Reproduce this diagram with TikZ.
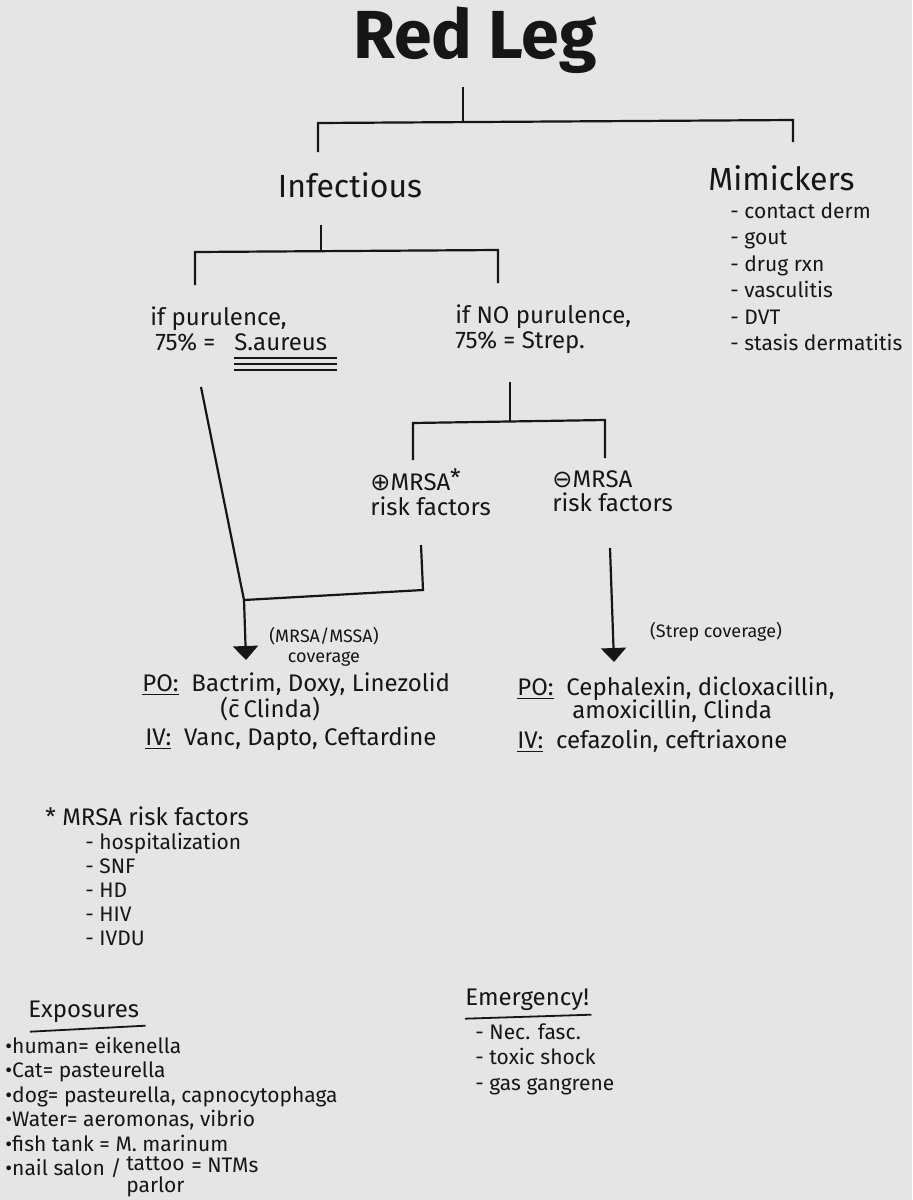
\documentclass[tikz,border=0pt]{standalone}
\usepackage{fontspec}
\setmainfont{Fira Sans}
\newfontfamily\symfont{DejaVu Sans}
\usetikzlibrary{positioning,arrows.meta,calc}
\definecolor{paper}{RGB}{229,229,229}
\definecolor{ink}{RGB}{22,22,22}
\tikzset{
  ttl/.style={font=\fontsize{34}{38}\selectfont\bfseries,text=ink,inner sep=0pt},
  head/.style={font=\fontsize{16}{19}\selectfont,text=ink,inner sep=0pt},
  txt/.style={font=\fontsize{12}{14}\selectfont,text=ink,inner sep=0pt,anchor=west,
    text height=1.5ex,text depth=0.45ex},
  itm/.style={font=\fontsize{10.5}{12.5}\selectfont,text=ink,inner sep=0pt,anchor=west,
    text height=1.5ex,text depth=0.45ex},
  note/.style={font=\fontsize{9}{10}\selectfont,text=ink,inner sep=0pt,align=center},
  lnk/.style={draw=ink,line width=1.1pt},
  arr/.style={lnk,-{Triangle[length=7pt,width=12.5pt]}},
  ul/.style={draw=ink,line width=0.9pt},
}
\begin{document}
\begin{tikzpicture}[x=0.5pt,y=-0.5pt]
  \fill[paper] (0,0) rectangle (912,1200);
  \useasboundingbox (0,0) rectangle (912,1200);

  % title and first split
  \node[ttl] (title) at (475,40) {Red Leg};
  \coordinate (rt) at (463,87);
  \coordinate (rj) at (463,122);
  \coordinate (rl) at (318,123);
  \coordinate (rr) at (793,120);
  \draw[lnk] (rt) -- (rj);
  \draw[lnk] (rl) ++(0,29) -- (rl) -- (rr) -- ++(0,22);

  \node[head] (inf) at (350,185) {Infectious};
  \node[head,anchor=west] (mim) at (708,178) {Mimickers};
  \foreach \t [count=\i] in {contact derm,gout,drug rxn,vasculitis,DVT,stasis dermatitis}
    \node[itm] (mim\i) at (730,186+26.5*\i) {- \t};

  % purulence split
  \coordinate (ij0) at (321,225);
  \coordinate (ij) at (321,251);
  \coordinate (il) at (195,252);
  \coordinate (ir) at (498,250);
  \draw[lnk] (ij0) -- (ij);
  \draw[lnk] (il) ++(0,33) -- (il) -- (ir) -- ++(0,33);

  \node[txt] (pur) at (150,320) {if purulence,};
  \node[txt] (pur2) at (155,345) {75\% =};
  \node[txt] (saur) at (234,345) {S.aureus};
  \foreach \d in {2,8,14}
    \draw[ul] ($(saur.south west)+(0,\d)$) -- ($(saur.south east)+(10,\d)$);
  \node[txt] (npur) at (455,318) {if NO purulence,};
  \node[txt] (npur2) at (455,343) {75\% = Strep.};

  % MRSA split
  \coordinate (nj0) at (510,382);
  \coordinate (nj) at (510,422);
  \coordinate (nl) at (413,423);
  \coordinate (nr) at (605,420);
  \draw[lnk] (nj0) -- (nj);
  \draw[lnk] (nl) ++(0,37) -- (nl) -- (nr) -- ++(0,38);

  \node[txt] (mpos) at (370,485) {{\symfont ⊕}MRSA\raisebox{2pt}{*}};
  \node[txt] (mpos2) at (370,510) {risk factors};
  \node[txt] (mneg) at (552,482) {{\symfont ⊖}MRSA};
  \node[txt] (mneg2) at (552,506) {risk factors};

  % arrows to treatment
  \coordinate (pl0) at (201,387);
  \coordinate (pj) at (244,600);
  \coordinate (mt) at (421,545);
  \coordinate (mj) at (423,590);
  \coordinate (pa) at (246,660);
  \draw[lnk] (pl0) -- (pj);
  \draw[lnk] (mt) -- (mj) -- (pj);
  \draw[arr] (pj) -- (pa);
  \coordinate (na0) at (610,548);
  \coordinate (na) at (614,662);
  \draw[arr] (na0) -- (na);

  \node[note] (cov1) at (324,647) {(MRSA/MSSA)\\coverage};
  \node[note] (cov2) at (716,632) {(Strep coverage)};

  \node[txt] (po1) at (142,686) {\underline{PO:}\ \ Bactrim, Doxy, Linezolid};
  \node[txt] (po1b) at (220,712) {(\={c}\,Clinda)};
  \node[txt] (iv1) at (145,740) {\underline{IV:}\ \ Vanc, Dapto, Ceftardine};
  \node[txt] (po2) at (517,690) {\underline{PO:}\ \ Cephalexin, dicloxacillin,};
  \node[txt] (po2b) at (572,713) {amoxicillin, Clinda};
  \node[txt] (iv2) at (517,743) {\underline{IV:}\ \ cefazolin, ceftriaxone};

  % footnote lists
  \node[txt] (rf) at (45,820) {* MRSA risk factors};
  \foreach \t [count=\i] in {hospitalization,SNF,HD,HIV,IVDU}
    \node[itm] (rf\i) at (85,820+24*\i) {- \t};

  \node[txt] (expo) at (28,1012) {Exposures};
  \draw[ul] ($(expo.south west)+(2,9)$) -- ($(expo.south east)+(6,3)$);
  \foreach \t [count=\i] in {human= eikenella,Cat= pasteurella,{dog= pasteurella, capnocytophaga},{Water= aeromonas, vibrio},fish tank = M. marinum}
    \node[itm] (ex\i) at (5,1023+24.5*\i) {•\t};
  \node[itm] (ex6) at (5,1170) {•nail salon /};
  \node[itm,right=2pt of ex6,yshift=2.5pt] (ex6t) {tattoo};
  \node[itm,below=0.5pt of ex6t] (ex6p) {parlor};
  \node[itm,right=3pt of ex6t,yshift=-1pt] (ex6n) {= NTMs};

  \node[txt] (emg) at (465,1000) {Emergency!};
  \draw[ul] ($(emg.south west)+(0,8)$) -- ($(emg.south east)+(2,4)$);
  \foreach \t [count=\i] in {Nec. fasc.,toxic shock,gas gangrene}
    \node[itm] (em\i) at (475,1008+25.5*\i) {- \t};
\end{tikzpicture}
\end{document}
